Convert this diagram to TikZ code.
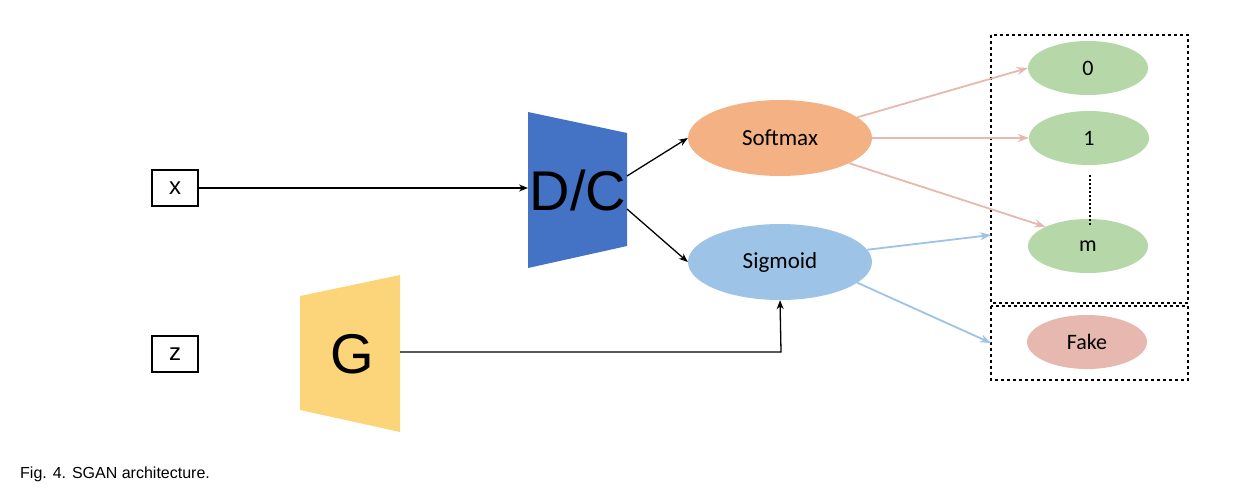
\documentclass[tikz,border=0pt]{standalone}
\usepackage{fontspec}
\setmainfont{Liberation Sans}
\newfontfamily\calib{Carlito}
\usetikzlibrary{shapes.geometric,arrows.meta}
\definecolor{dcblue}{HTML}{4472C4}
\definecolor{gyel}{HTML}{FCD57A}
\definecolor{soft}{HTML}{F4B183}
\definecolor{sigm}{HTML}{9DC3E6}
\definecolor{grn}{HTML}{B6D7A8}
\definecolor{fake}{HTML}{E6B8AF}
\definecolor{pinkar}{HTML}{E6B8AF}
\definecolor{bluear}{HTML}{9DC3E6}
\begin{document}
\begin{tikzpicture}[x=1pt,y=-1pt,
  inp/.style={draw,line width=1.2pt,minimum width=46pt,minimum height=36pt,inner sep=0pt,font=\fontsize{24}{24}\selectfont},
  ell/.style={ellipse,minimum width=184pt,minimum height=76pt,inner sep=0pt,font=\calib\fontsize{23}{23}\selectfont},
  cls/.style={ellipse,fill=grn,minimum width=120pt,minimum height=54pt,inner sep=0pt,font=\calib\fontsize{22}{22}\selectfont},
  ar/.style={-{Stealth[length=9pt,width=7pt]},line width=1.3pt},
  par/.style={-{Stealth[length=11pt,width=8pt]},line width=1.8pt,pinkar},
  bar/.style={-{Stealth[length=11pt,width=8pt]},line width=1.8pt,bluear}]
\useasboundingbox (0,0) rectangle (1249,496);
\node[inp] (x) at (175,188) {x};
\node[inp] (z) at (175,354) {z};
\fill[dcblue] (528,112) -- (627,133) -- (627,246) -- (528,268) -- cycle;
\node[font=\fontsize{56}{56}\selectfont,inner sep=0pt] (dc) at (578,190) {D/C};
\coordinate (dcin) at (528,188);
\coordinate (dco1) at (627,176);
\coordinate (dco2) at (627,209);
\fill[gyel] (300,296) -- (400,275) -- (400,432) -- (300,410) -- cycle;
\node[font=\fontsize{56}{56}\selectfont,inner sep=0pt] (g) at (352,354) {G};
\coordinate (gout) at (400,352);
\coordinate (bend) at (781,352);
\node[ell,fill=soft] (sm) at (780,138) {Softmax};
\node[ell,fill=sigm] (sg) at (780,262) {Sigmoid};
\node[cls] (c0) at (1088,68) {0};
\node[cls] (c1) at (1089,138) {1};
\node[cls] (cm) at (1088,246) {m};
\node[cls,fill=fake] (fk) at (1087,342) {Fake};
\draw[dashed,line width=1.2pt] (991,35) rectangle (1188,303);
\draw[dashed,line width=1.2pt] (991,306) rectangle (1188,380);
\draw[dotted,line width=2pt] (1090,175) -- (1090,225);
\coordinate (t1) at (991,235);
\coordinate (t2) at (991,343);
\draw[ar] (x) -- (dcin);
\draw[ar] (dco1) -- (sm.west);
\draw[ar] (dco2) -- (sg.west);
\draw[ar] (gout) -- (bend) -- (sg.south);
\draw[par] (sm.15) -- (c0.west);
\draw[par] (sm.east) -- (c1.west);
\draw[par] (sm.-20) -- (cm.north west);
\draw[bar] (sg.8) -- (t1);
\draw[bar] (sg.-15) -- (t2);
\node[anchor=west,font=\fontsize{16}{16}\selectfont,inner sep=0pt] (cap) at (20,474) {Fig. 4. SGAN architecture.};
\end{tikzpicture}
\end{document}
